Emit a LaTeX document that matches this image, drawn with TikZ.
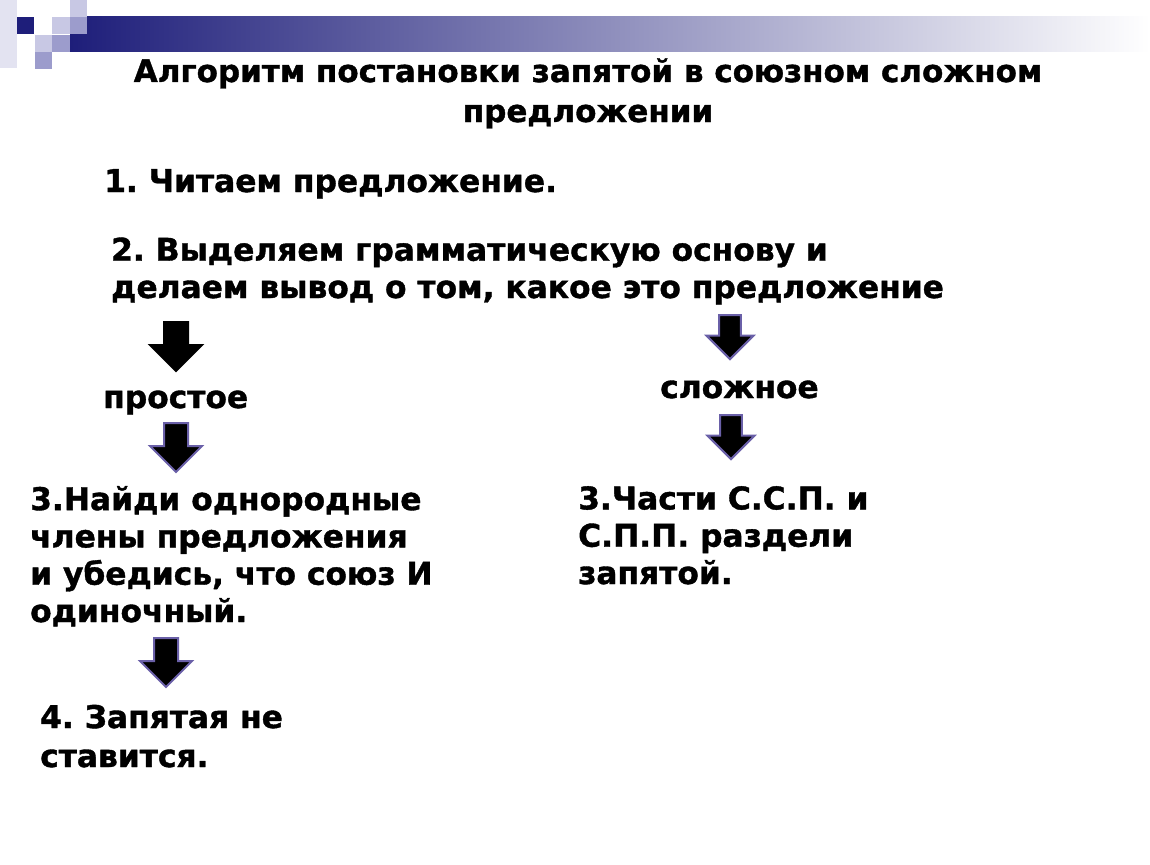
\documentclass[tikz,border=0pt]{standalone}
\usepackage{fontspec}
\setmainfont{DejaVu Sans}[BoldFeatures={FakeBold=1.2}]
\frenchspacing
\definecolor{navy}{HTML}{1E1E7A}
\definecolor{lav}{HTML}{C8C8E4}
\definecolor{midlav}{HTML}{9C9CCC}
\definecolor{rim}{HTML}{6A60A8}
\tikzset{
  txt/.style={anchor=base west, inner sep=0pt, align=left,
    font=\fontsize{31.3}{37.3}\selectfont\bfseries},
  head/.style={anchor=base, inner sep=0pt, align=center,
    font=\fontsize{31}{40}\selectfont\bfseries},
  bigarrow/.pic={
    \filldraw[line width=2pt, line join=miter, pic actions]
      (-12,0) -- (12,0) -- (12,23) -- (26,23) -- (0,49)
      -- (-26,23) -- (-12,23) -- cycle;}
}
\begin{document}
\begin{tikzpicture}[x=1pt,y=-1pt]
  \useasboundingbox (0,0) rectangle (1150,864);
  % banner
  \shade[left color=navy, right color=white] (70,17) rectangle (1150,52);
  \fill[lav!50] (0,0) rectangle (17,68);
  \fill[lav] (70,0) rectangle (87,17);
  \fill[navy] (17,17) rectangle (34,34);
  \fill[lav] (52,17) rectangle (70,34);
  \fill[midlav] (70,17) rectangle (87,34);
  \fill[lav] (35,35) rectangle (52,52);
  \fill[midlav] (52,35) rectangle (70,52);
  \fill[midlav] (35,52) rectangle (52,69);
  % texts (base = last line)
  \node[head] (title) at (588,122)
    {Алгоритм постановки запятой в союзном сложном\\предложении};
  \node[txt] (read) at (104,192) {1. Читаем предложение.};
  \node[txt] (base) at (111,298)
    {2. Выделяем грамматическую основу и\\делаем вывод о том, какое это предложение};
  \node[txt] (simple) at (103,408) {простое};
  \node[txt] (complex) at (660,398) {сложное};
  \node[txt] (find) at (30,622)
    {3.Найди однородные\\члены предложения\\и убедись, что союз И\\одиночный.};
  \node[txt, font=\fontsize{31.3}{39}\selectfont\bfseries] (nocomma) at (40,767)
    {4. Запятая не\\ставится.};
  \node[txt] (split) at (578,584)
    {3.Части С.С.П. и\\С.П.П. раздели\\запятой.};
  % arrows
  \pic[fill=black, draw=black] at (176,322) {bigarrow};
  \pic[fill=black, draw=rim] at (176,423) {bigarrow};
  \pic[fill=black, draw=rim] at (166,638) {bigarrow};
  \pic[fill=black, draw=rim, scale=0.9] at (730,315) {bigarrow};
  \pic[fill=black, draw=rim, scale=0.9] at (731,415) {bigarrow};
\end{tikzpicture}
\end{document}
